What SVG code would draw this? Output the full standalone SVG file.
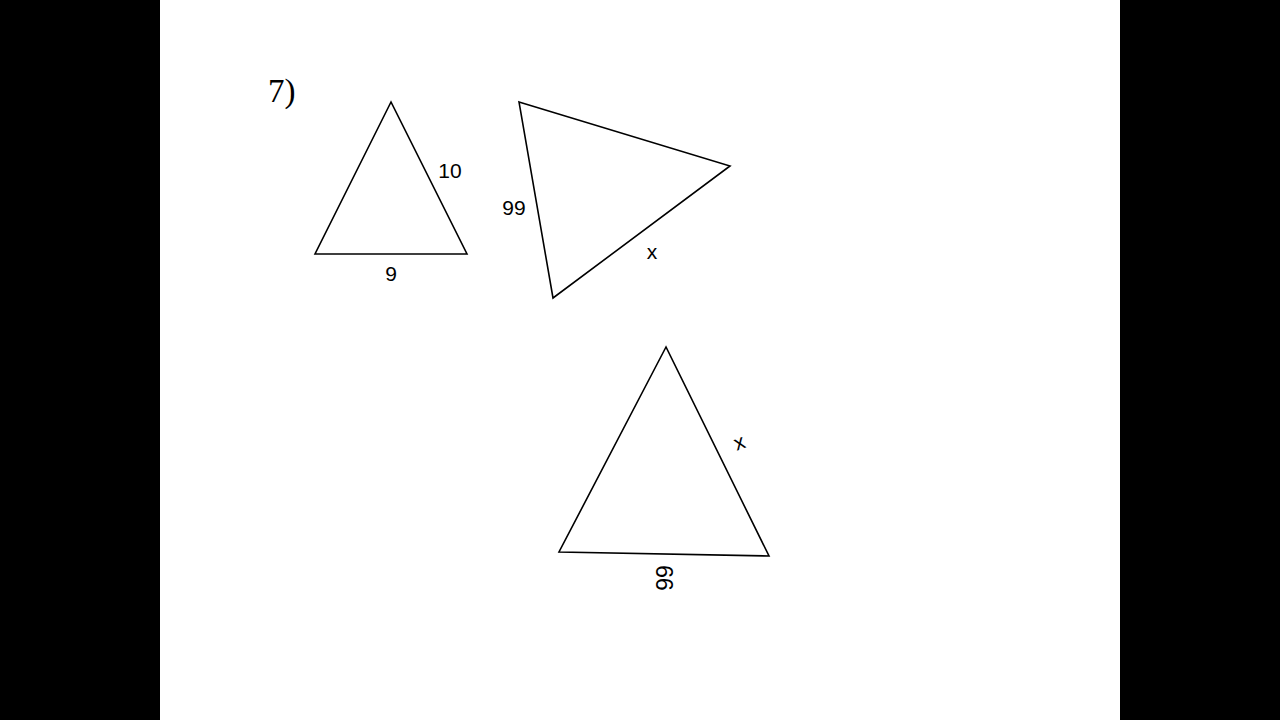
<svg xmlns="http://www.w3.org/2000/svg" width="1280" height="720" viewBox="0 0 1280 720">
<style>
.tri{fill:none;stroke:#000;stroke-width:1.6;stroke-linejoin:miter}
.lbl{font-family:"Liberation Sans",Arial,sans-serif;font-size:21px;fill:#000;text-anchor:middle;dominant-baseline:central}
.num{font-family:"Liberation Serif","Times New Roman",serif;font-size:33px;fill:#000}
</style>
<rect x="0" y="0" width="1280" height="720" fill="#000"/>
<rect x="160" y="0" width="960" height="720" fill="#fff"/>
<text class="num" x="268" y="102">7)</text>
<g id="tri1">
<polygon class="tri" points="391,102 315,254 467,254"/>
<text class="lbl" x="450" y="170">10</text>
<text class="lbl" x="391" y="273">9</text>
</g>
<g id="tri2">
<polygon class="tri" points="519,102 730,166 553,298"/>
<text class="lbl" x="514" y="207">99</text>
<text class="lbl" x="652" y="251">x</text>
</g>
<g id="tri3">
<polygon class="tri" points="666,347 559,552 769,556"/>
<text class="lbl" transform="translate(665,578) rotate(-90) scale(1.1)">99</text>
<text class="lbl" transform="translate(739,442) rotate(-20)">x</text>
</g>
<g id="connectors"/>
</svg>
